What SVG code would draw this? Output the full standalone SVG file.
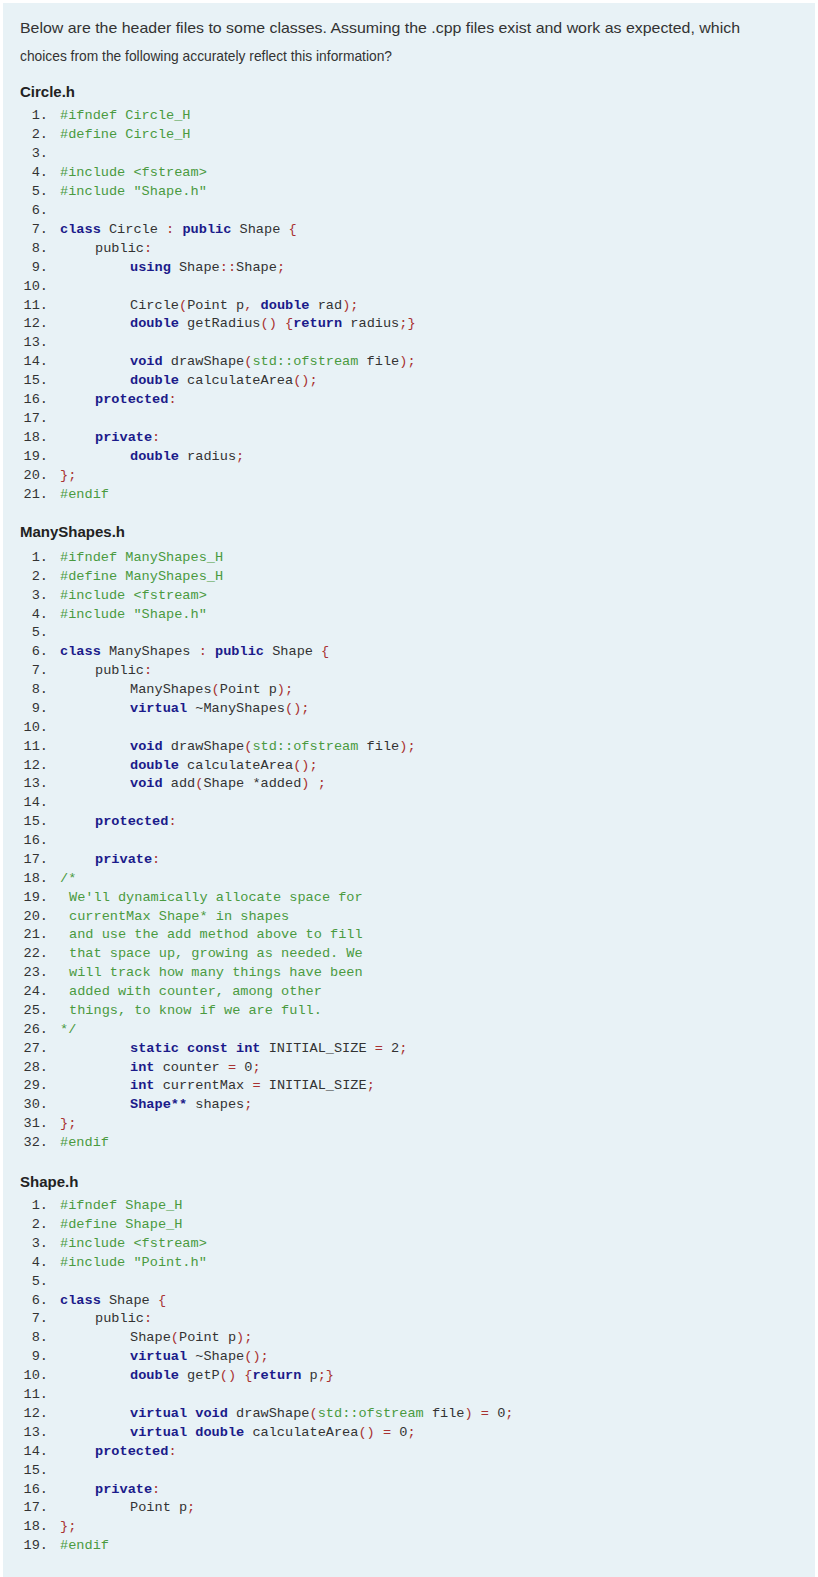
<svg xmlns="http://www.w3.org/2000/svg" width="818" height="1577" viewBox="0 0 818 1577">
<style>
.c{font-family:"Liberation Mono",monospace;font-size:13.6px;fill:#333;white-space:pre}
.n{font-family:"Liberation Mono",monospace;font-size:13.6px;fill:#333;text-anchor:end}
.k{font-weight:bold;fill:#1b1b8a}
.g{fill:#4a9a3f}
.p{fill:#a83232}
.h{font-family:"Liberation Sans",Arial,sans-serif;font-size:15px;font-weight:bold;fill:#222}
.t{font-family:"Liberation Sans",Arial,sans-serif;font-size:15px;fill:#333}
</style>
<rect width="818" height="1577" fill="#ffffff"/>
<rect x="3" y="3" width="812" height="1574" fill="#e8f2f6"/>
<g id="intro">
<text class="t" x="20" y="33" textLength="720" lengthAdjust="spacingAndGlyphs">Below are the header files to some classes. Assuming the .cpp files exist and work as expected, which</text>
<text class="t" x="20" y="61" textLength="372" lengthAdjust="spacingAndGlyphs">choices from the following accurately reflect this information?</text>
</g>
<g id="circle">
<text class="h" x="20" y="97">Circle.h</text>
<text class="n" x="48" y="119">1.</text><text class="n" x="48" y="138">2.</text><text class="n" x="48" y="157">3.</text><text class="n" x="48" y="176">4.</text><text class="n" x="48" y="195">5.</text><text class="n" x="48" y="214">6.</text><text class="n" x="48" y="233">7.</text><text class="n" x="48" y="252">8.</text><text class="n" x="48" y="271">9.</text><text class="n" x="48" y="290">10.</text><text class="n" x="48" y="309">11.</text><text class="n" x="48" y="327">12.</text><text class="n" x="48" y="346">13.</text><text class="n" x="48" y="365">14.</text><text class="n" x="48" y="384">15.</text><text class="n" x="48" y="403">16.</text><text class="n" x="48" y="422">17.</text><text class="n" x="48" y="441">18.</text><text class="n" x="48" y="460">19.</text><text class="n" x="48" y="479">20.</text><text class="n" x="48" y="498">21.</text>
<text class="c g" x="60" y="119">#ifndef Circle_H</text>
<text class="c g" x="60" y="138">#define Circle_H</text>
<text class="c g" x="60" y="176">#include &lt;fstream&gt;</text>
<text class="c g" x="60" y="195">#include "Shape.h"</text>
<text class="c" x="60" y="233"><tspan class="k">class</tspan> Circle <tspan class="p">:</tspan> <tspan class="k">public</tspan> Shape <tspan class="p">{</tspan></text>
<text class="c" x="95" y="252">public<tspan class="p">:</tspan></text>
<text class="c" x="130" y="271"><tspan class="k">using</tspan> Shape<tspan class="p">::</tspan>Shape<tspan class="p">;</tspan></text>
<text class="c" x="130" y="309">Circle<tspan class="p">(</tspan>Point p<tspan class="p">,</tspan> <tspan class="k">double</tspan> rad<tspan class="p">);</tspan></text>
<text class="c" x="130" y="327"><tspan class="k">double</tspan> getRadius<tspan class="p">()</tspan> <tspan class="p">{</tspan><tspan class="k">return</tspan> radius<tspan class="p">;}</tspan></text>
<text class="c" x="130" y="365"><tspan class="k">void</tspan> drawShape<tspan class="p">(</tspan><tspan class="g">std::ofstream</tspan> file<tspan class="p">);</tspan></text>
<text class="c" x="130" y="384"><tspan class="k">double</tspan> calculateArea<tspan class="p">();</tspan></text>
<text class="c" x="95" y="403"><tspan class="k">protected</tspan><tspan class="p">:</tspan></text>
<text class="c" x="95" y="441"><tspan class="k">private</tspan><tspan class="p">:</tspan></text>
<text class="c" x="130" y="460"><tspan class="k">double</tspan> radius<tspan class="p">;</tspan></text>
<text class="c p" x="60" y="479">};</text>
<text class="c g" x="60" y="498">#endif</text>
</g>
<g id="manyshapes">
<text class="h" x="20" y="537">ManyShapes.h</text>
<text class="n" x="48" y="561">1.</text><text class="n" x="48" y="580">2.</text><text class="n" x="48" y="599">3.</text><text class="n" x="48" y="618">4.</text><text class="n" x="48" y="636">5.</text><text class="n" x="48" y="655">6.</text><text class="n" x="48" y="674">7.</text><text class="n" x="48" y="693">8.</text><text class="n" x="48" y="712">9.</text><text class="n" x="48" y="731">10.</text><text class="n" x="48" y="750">11.</text><text class="n" x="48" y="769">12.</text><text class="n" x="48" y="787">13.</text><text class="n" x="48" y="806">14.</text><text class="n" x="48" y="825">15.</text><text class="n" x="48" y="844">16.</text><text class="n" x="48" y="863">17.</text><text class="n" x="48" y="882">18.</text><text class="n" x="48" y="901">19.</text><text class="n" x="48" y="920">20.</text><text class="n" x="48" y="938">21.</text><text class="n" x="48" y="957">22.</text><text class="n" x="48" y="976">23.</text><text class="n" x="48" y="995">24.</text><text class="n" x="48" y="1014">25.</text><text class="n" x="48" y="1033">26.</text><text class="n" x="48" y="1052">27.</text><text class="n" x="48" y="1071">28.</text><text class="n" x="48" y="1089">29.</text><text class="n" x="48" y="1108">30.</text><text class="n" x="48" y="1127">31.</text><text class="n" x="48" y="1146">32.</text>
<text class="c g" x="60" y="561">#ifndef ManyShapes_H</text>
<text class="c g" x="60" y="580">#define ManyShapes_H</text>
<text class="c g" x="60" y="599">#include &lt;fstream&gt;</text>
<text class="c g" x="60" y="618">#include "Shape.h"</text>
<text class="c" x="60" y="655"><tspan class="k">class</tspan> ManyShapes <tspan class="p">:</tspan> <tspan class="k">public</tspan> Shape <tspan class="p">{</tspan></text>
<text class="c" x="95" y="674">public<tspan class="p">:</tspan></text>
<text class="c" x="130" y="693">ManyShapes<tspan class="p">(</tspan>Point p<tspan class="p">);</tspan></text>
<text class="c" x="130" y="712"><tspan class="k">virtual</tspan> ~ManyShapes<tspan class="p">();</tspan></text>
<text class="c" x="130" y="750"><tspan class="k">void</tspan> drawShape<tspan class="p">(</tspan><tspan class="g">std::ofstream</tspan> file<tspan class="p">);</tspan></text>
<text class="c" x="130" y="769"><tspan class="k">double</tspan> calculateArea<tspan class="p">();</tspan></text>
<text class="c" x="130" y="787"><tspan class="k">void</tspan> add<tspan class="p">(</tspan>Shape *added<tspan class="p">)</tspan> <tspan class="p">;</tspan></text>
<text class="c" x="95" y="825"><tspan class="k">protected</tspan><tspan class="p">:</tspan></text>
<text class="c" x="95" y="863"><tspan class="k">private</tspan><tspan class="p">:</tspan></text>
<text class="c g" x="60" y="882">/*</text>
<text class="c g" x="69" y="901">We'll dynamically allocate space for</text>
<text class="c g" x="69" y="920">currentMax Shape* in shapes</text>
<text class="c g" x="69" y="938">and use the add method above to fill</text>
<text class="c g" x="69" y="957">that space up, growing as needed. We</text>
<text class="c g" x="69" y="976">will track how many things have been</text>
<text class="c g" x="69" y="995">added with counter, among other</text>
<text class="c g" x="69" y="1014">things, to know if we are full.</text>
<text class="c g" x="60" y="1033">*/</text>
<text class="c" x="130" y="1052"><tspan class="k">static const int</tspan> INITIAL_SIZE <tspan class="p">=</tspan> 2<tspan class="p">;</tspan></text>
<text class="c" x="130" y="1071"><tspan class="k">int</tspan> counter <tspan class="p">=</tspan> 0<tspan class="p">;</tspan></text>
<text class="c" x="130" y="1089"><tspan class="k">int</tspan> currentMax <tspan class="p">=</tspan> INITIAL_SIZE<tspan class="p">;</tspan></text>
<text class="c" x="130" y="1108"><tspan class="k">Shape**</tspan> shapes<tspan class="p">;</tspan></text>
<text class="c p" x="60" y="1127">};</text>
<text class="c g" x="60" y="1146">#endif</text>
</g>
<g id="shape">
<text class="h" x="20" y="1187">Shape.h</text>
<text class="n" x="48" y="1209">1.</text><text class="n" x="48" y="1228">2.</text><text class="n" x="48" y="1247">3.</text><text class="n" x="48" y="1266">4.</text><text class="n" x="48" y="1285">5.</text><text class="n" x="48" y="1304">6.</text><text class="n" x="48" y="1322">7.</text><text class="n" x="48" y="1341">8.</text><text class="n" x="48" y="1360">9.</text><text class="n" x="48" y="1379">10.</text><text class="n" x="48" y="1398">11.</text><text class="n" x="48" y="1417">12.</text><text class="n" x="48" y="1436">13.</text><text class="n" x="48" y="1455">14.</text><text class="n" x="48" y="1474">15.</text><text class="n" x="48" y="1493">16.</text><text class="n" x="48" y="1511">17.</text><text class="n" x="48" y="1530">18.</text><text class="n" x="48" y="1549">19.</text>
<text class="c g" x="60" y="1209">#ifndef Shape_H</text>
<text class="c g" x="60" y="1228">#define Shape_H</text>
<text class="c g" x="60" y="1247">#include &lt;fstream&gt;</text>
<text class="c g" x="60" y="1266">#include "Point.h"</text>
<text class="c" x="60" y="1304"><tspan class="k">class</tspan> Shape <tspan class="p">{</tspan></text>
<text class="c" x="95" y="1322">public<tspan class="p">:</tspan></text>
<text class="c" x="130" y="1341">Shape<tspan class="p">(</tspan>Point p<tspan class="p">);</tspan></text>
<text class="c" x="130" y="1360"><tspan class="k">virtual</tspan> ~Shape<tspan class="p">();</tspan></text>
<text class="c" x="130" y="1379"><tspan class="k">double</tspan> getP<tspan class="p">()</tspan> <tspan class="p">{</tspan><tspan class="k">return</tspan> p<tspan class="p">;}</tspan></text>
<text class="c" x="130" y="1417"><tspan class="k">virtual void</tspan> drawShape<tspan class="p">(</tspan><tspan class="g">std::ofstream</tspan> file<tspan class="p">)</tspan> <tspan class="p">=</tspan> 0<tspan class="p">;</tspan></text>
<text class="c" x="130" y="1436"><tspan class="k">virtual double</tspan> calculateArea<tspan class="p">()</tspan> <tspan class="p">=</tspan> 0<tspan class="p">;</tspan></text>
<text class="c" x="95" y="1455"><tspan class="k">protected</tspan><tspan class="p">:</tspan></text>
<text class="c" x="95" y="1493"><tspan class="k">private</tspan><tspan class="p">:</tspan></text>
<text class="c" x="130" y="1511">Point p<tspan class="p">;</tspan></text>
<text class="c p" x="60" y="1530">};</text>
<text class="c g" x="60" y="1549">#endif</text>
</g>
</svg>
